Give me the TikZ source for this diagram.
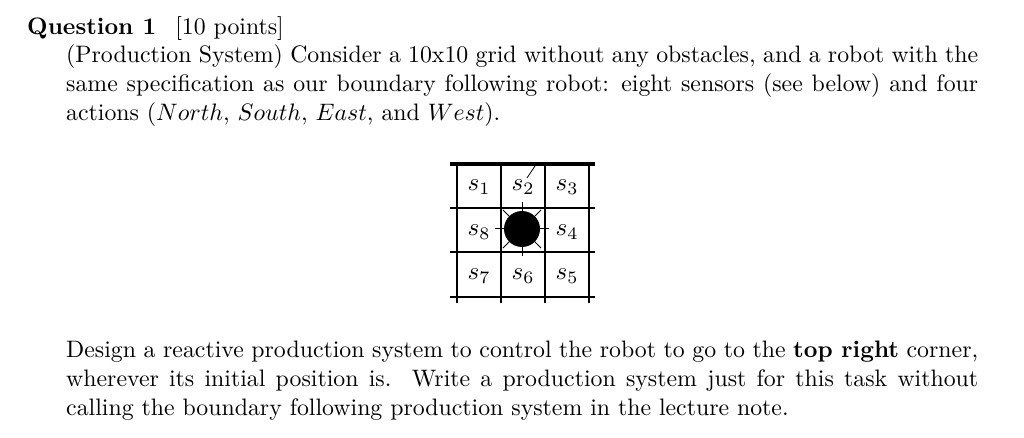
\documentclass[tikz,border=0pt]{standalone}
\usepackage{graphicx}
\begin{document}
\begin{tikzpicture}[x=1pt,y=-1pt,
  txt/.style={anchor=north west,inner sep=0pt},
  lab/.style={inner sep=0pt},
  gl/.style={line width=1.3pt}]
\useasboundingbox (0,0) rectangle (1024,438);
\node[anchor=base west,inner sep=0pt] (h) at (27,35) {\scalebox{2.38}{\bfseries Question 1\hspace{8pt}\mdseries[10 points]}};
\node[txt] (p1) at (66,44) {\scalebox{2.38}{\parbox{383.2pt}{\baselineskip=12.2pt\noindent(Production System) Consider a 10x10 grid without any obstacles, and a robot with the same specification as our boundary following robot: eight sensors (see below) and four actions ($North$, $South$, $East$, and $West$).}}};
\node[txt] (p2) at (66,341) {\scalebox{2.38}{\parbox{383.2pt}{\baselineskip=12.2pt\noindent Design a reactive production system to control the robot to go to the \textbf{top right} corner, wherever its initial position is.\ \ Write a production system just for this task without calling the boundary following production system in the lecture note.}}};
% grid
\draw[line width=4pt] (450,164) -- (595,164);
\foreach \x in {457,501,545,589} \draw[gl] (\x,164) -- (\x,303);
\foreach \y in {208,252,297} \draw[gl] (450,\y) -- (595,\y);
\fill (522,229) circle (18);
\foreach \a in {0,45,...,315} \draw[line width=1pt] (522,229) ++(\a:15) -- ++(\a:12);
\draw[line width=0.8pt] (527,178) -- (535,166);
\node[lab] (s1) at (479,187) {\scalebox{2.5}{$s_1$}};
\node[lab] (s2) at (523,187) {\scalebox{2.5}{$s_2$}};
\node[lab] (s3) at (567,187) {\scalebox{2.5}{$s_3$}};
\node[lab] (s8) at (479,232) {\scalebox{2.5}{$s_8$}};
\node[lab] (s4) at (567,232) {\scalebox{2.5}{$s_4$}};
\node[lab] (s7) at (479,276) {\scalebox{2.5}{$s_7$}};
\node[lab] (s6) at (523,276) {\scalebox{2.5}{$s_6$}};
\node[lab] (s5) at (567,276) {\scalebox{2.5}{$s_5$}};
\end{tikzpicture}
\end{document}
